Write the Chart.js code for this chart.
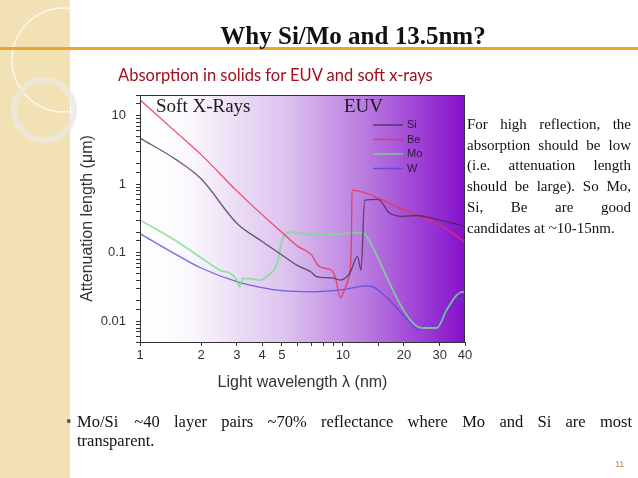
<!DOCTYPE html>
<html>
<head>
<meta charset="utf-8">
<script src="https://cdn.jsdelivr.net/npm/chart.js@4.4.1/dist/chart.umd.min.js"></script>
<style>
  html, body { margin: 0; padding: 0; background: #fff; }
  #slide { position: relative; width: 638px; height: 478px; overflow: hidden; }
  #c { position: absolute; left: 0; top: 0; }
  .txt { position: absolute; white-space: nowrap; }
  #title { left: 0; width: 706px; top: 22px; text-align: center; font: bold 25px "Liberation Serif", serif; color: #111; }
  #sub { left: 118px; top: 65px; font: 16.5px Lato, sans-serif; color: #a0101e; }
  #note { left: 467px; top: 114px; width: 164px; font: 15px/20.7px "Liberation Serif", serif; color: #111; }
  #note div, #bullet .j { white-space: nowrap; text-align: justify; text-align-last: justify; }
  #note div.last { text-align-last: left; }
  #bullet { left: 77px; top: 412px; width: 555px; font: 16.5px/19px "Liberation Serif", serif; color: #111; }
  #bullet .gap { display: inline-block; width: 16px; }
  #dot { left: 66px; top: 412px; font: 16px/19px "Liberation Serif", serif; color: #555; }
  #pg { left: 615px; top: 459px; font: 9px "Liberation Sans", sans-serif; color: #b08a50; }
</style>
</head>
<body>
<div id="slide">
  <canvas id="c" width="638" height="478"></canvas>
  <div class="txt" id="title">Why Si/Mo and 13.5nm?</div>
  <div class="txt" id="sub">Absorption in solids for EUV and soft x-rays</div>
  <div class="txt" id="note">
    <div>For high reflection, the</div>
    <div>absorption should be low</div>
    <div>(i.e. attenuation length</div>
    <div>should be large). So Mo,</div>
    <div>Si, Be are good</div>
    <div class="last">candidates at ~10-15nm.</div>
  </div>
  <div class="txt" id="dot">&bull;</div>
  <div class="txt" id="bullet">
    <div class="j">Mo/Si<span class="gap"></span>~40 layer pairs ~70% reflectance where Mo and Si are most</div>
    <div>transparent.</div>
  </div>
  <div class="txt" id="pg">11</div>
</div>
<script>
// wavelength (nm) / attenuation length (um)
var siX = [1, 1.5, 2, 3, 4, 5, 6, 7, 7.4, 8.9, 9.7, 10.8, 11.8, 12.3, 12.8, 14.9, 17, 19.8, 23.1, 30, 40];
var siY = [4.7, 2.3, 1.2, 0.27, 0.146, 0.093, 0.065, 0.052, 0.045, 0.043, 0.040, 0.05, 0.088, 0.056, 0.58, 0.60, 0.38, 0.34, 0.35, 0.30, 0.245];

var beX = [1, 1.5, 2, 3, 4, 5, 6, 7, 7.5, 8, 8.7, 9.2, 9.7, 10.2, 10.6, 11.0, 11.1, 13, 20, 30, 35, 40];
var beY = [17, 5.8, 2.7, 0.8, 0.36, 0.2, 0.124, 0.094, 0.067, 0.06, 0.057, 0.043, 0.022, 0.029, 0.040, 0.11, 0.82, 0.74, 0.42, 0.256, 0.19, 0.145];

var moX = [1, 1.5, 2, 2.5, 2.8, 3.0, 3.1, 3.2, 3.5, 3.9, 4.3, 4.6, 4.8, 5.0, 5.3, 5.6, 6.5, 8, 10, 12.5, 14.0, 16.4, 19.1, 22.1, 24.8, 29, 32.5, 36.3, 39, 40];
var moY = [0.30, 0.15, 0.085, 0.055, 0.05, 0.040, 0.032, 0.042, 0.042, 0.040, 0.047, 0.058, 0.08, 0.15, 0.195, 0.2, 0.188, 0.182, 0.19, 0.198, 0.122, 0.045, 0.018, 0.0095, 0.008, 0.008, 0.0147, 0.024, 0.027, 0.026];

var wX = [1, 1.5, 2, 3, 4, 5, 7, 10, 13, 14, 16, 18, 20, 22, 23.4, 26.8, 28.3, 32, 36.3, 40];
var wY = [0.19, 0.095, 0.06, 0.038, 0.031, 0.028, 0.027, 0.029, 0.033, 0.032, 0.024, 0.017, 0.012, 0.009, 0.0075, 0.0101, 0.008, 0.015, 0.022, 0.0194];

var xLabels = [1, 2, 3, 4, 5, 10, 20, 30, 40];
var yLabels = [0.01, 0.1, 1, 10];

function pts(xs, ys) {
  return xs.map(function(x, i) { return {x: x, y: ys[i]}; });
}

var slideDeco = {
  id: 'slideDeco',
  beforeDraw: function(chart) {
    var ctx = chart.ctx;
    ctx.save();
    ctx.fillStyle = '#ffffff';
    ctx.fillRect(0, 0, 638, 478);
    ctx.fillStyle = '#f3e1b6';
    ctx.fillRect(0, 0, 70, 478);
    // circles
    ctx.strokeStyle = 'rgba(255,255,255,0.75)';
    ctx.lineWidth = 1.5;
    ctx.beginPath(); ctx.arc(64, 60, 52, 0, Math.PI * 2); ctx.stroke();
    ctx.strokeStyle = 'rgba(235,232,225,0.8)';
    ctx.lineWidth = 6;
    ctx.beginPath(); ctx.arc(44, 110, 30, 0, Math.PI * 2); ctx.stroke();
    // orange rule
    ctx.fillStyle = '#e9a828';
    ctx.fillRect(0, 47, 638, 3);
    ctx.restore();
  },
  beforeDatasetsDraw: function(chart) {
    var a = chart.chartArea, ctx = chart.ctx;
    ctx.save();
    var g = ctx.createLinearGradient(a.left, 0, a.right, 0);
    g.addColorStop(0, '#ffffff');
    g.addColorStop(0.15, '#fbf8fd');
    g.addColorStop(0.45, '#dcc2ee');
    g.addColorStop(0.7, '#b878df');
    g.addColorStop(1, '#8610cc');
    ctx.fillStyle = g;
    ctx.fillRect(a.left, a.top, a.right - a.left, a.bottom - a.top);
    ctx.fillStyle = '#1a1a1a';
    ctx.font = '19px "Liberation Serif", serif';
    ctx.textBaseline = 'middle';
    ctx.fillText('Soft X-Rays', 156, 107);
    ctx.fillText('EUV', 344, 107);
    ctx.restore();
  },
  afterDraw: function(chart) {
    var a = chart.chartArea, ctx = chart.ctx;
    ctx.save();
    ctx.strokeStyle = '#333';
    ctx.lineWidth = 1;
    ctx.strokeRect(a.left + 0.5, a.top + 0.5, a.right - a.left - 1, a.bottom - a.top);
    // legend, taken from the datasets
    ctx.font = '11px "Liberation Sans", sans-serif';
    ctx.textBaseline = 'middle';
    chart.data.datasets.forEach(function(ds, i) {
      var y = 125 + i * 14.5;
      ctx.strokeStyle = ds.borderColor;
      ctx.lineWidth = 1.5;
      ctx.beginPath(); ctx.moveTo(373, y); ctx.lineTo(403, y); ctx.stroke();
      ctx.fillStyle = '#2a1a30';
      ctx.fillText(ds.label, 407, y);
    });
    ctx.restore();
  }
};

new Chart(document.getElementById('c'), {
  type: 'line',
  data: {
    datasets: [
      {label: 'Si', data: pts(siX, siY), borderColor: 'rgba(60,40,70,0.75)', borderWidth: 1.3},
      {label: 'Be', data: pts(beX, beY), borderColor: 'rgba(238,50,80,0.85)', borderWidth: 1.3},
      {label: 'Mo', data: pts(moX, moY), borderColor: 'rgba(120,225,140,0.8)', borderWidth: 1.8},
      {label: 'W', data: pts(wX, wY), borderColor: 'rgba(80,70,225,0.8)', borderWidth: 1.3}
    ]
  },
  options: {
    responsive: false,
    animation: false,
    elements: { point: { radius: 0 }, line: { tension: 0.3, cubicInterpolationMode: 'monotone' } },
    layout: { padding: { left: 70, right: 173, top: 95, bottom: 76 } },
    plugins: { legend: { display: false }, tooltip: { enabled: false } },
    scales: {
      x: {
        type: 'logarithmic',
        min: 1, max: 40,
        afterFit: function(s) { s.height = 60; },
        grid: { drawOnChartArea: false, tickLength: 4, color: '#333' },
        border: { color: '#333' },
        ticks: {
          autoSkip: false, maxRotation: 0, padding: 2,
          color: '#333',
          font: { family: 'Liberation Sans', size: 13 },
          callback: function(v) { return xLabels.indexOf(Math.round(v)) >= 0 && Math.abs(v - Math.round(v)) < 1e-6 ? String(Math.round(v)) : ''; }
        },
        title: { display: true, text: 'Light wavelength λ (nm)', color: '#333',
                 font: { family: 'Liberation Sans', size: 16 }, padding: { top: 0, bottom: 10 } }
      },
      y: {
        type: 'logarithmic',
        min: 0.005, max: 20,
        afterFit: function(s) { s.width = 70; },
        grid: { drawOnChartArea: false, tickLength: 4, color: '#333' },
        border: { color: '#333' },
        ticks: {
          autoSkip: false, padding: 10,
          color: '#333',
          font: { family: 'Liberation Sans', size: 13 },
          callback: function(v) {
            for (var i = 0; i < yLabels.length; i++) {
              if (Math.abs(v - yLabels[i]) < yLabels[i] * 1e-6) return String(yLabels[i]);
            }
            return '';
          }
        },
        title: { display: true, text: 'Attenuation length (μm)', color: '#333',
                 font: { family: 'Liberation Sans', size: 16 }, padding: { top: 8, bottom: 0 } }
      }
    }
  },
  plugins: [slideDeco]
});
</script>
</body>
</html>
